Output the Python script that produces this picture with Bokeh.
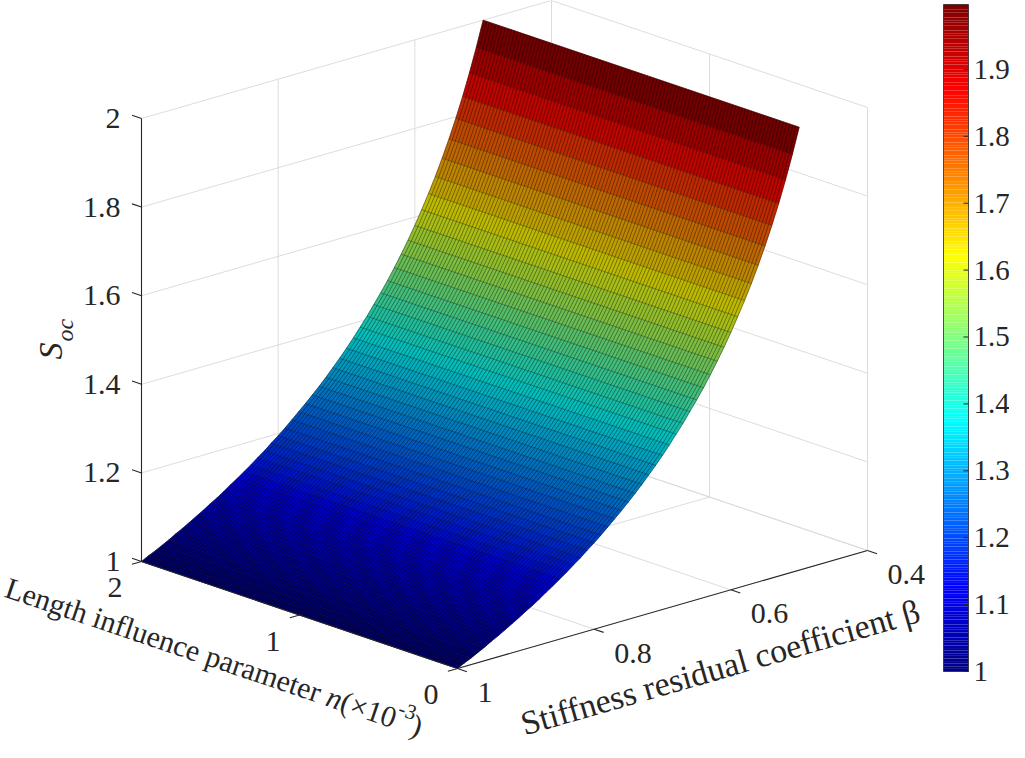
import numpy as np
from bokeh.plotting import figure
from bokeh.models import Range1d
from bokeh.embed import file_html
from bokeh.resources import INLINE
from bokeh.core.properties import value

# ---------------- data ----------------
beta = [0.50, 0.51, 0.52, 0.53, 0.54, 0.55, 0.56, 0.57, 0.58, 0.59,
        0.60, 0.61, 0.62, 0.63, 0.64, 0.65, 0.66, 0.67, 0.68, 0.69,
        0.70, 0.71, 0.72, 0.73, 0.74, 0.75, 0.76, 0.77, 0.78, 0.79,
        0.80, 0.81, 0.82, 0.83, 0.84, 0.85, 0.86, 0.87, 0.88, 0.89,
        0.90, 0.91, 0.92, 0.93, 0.94, 0.95, 0.96, 0.97, 0.98, 0.99, 1.00]
S_oc = [2.000, 1.943, 1.890, 1.841, 1.796, 1.754, 1.715, 1.678, 1.644, 1.612,
        1.581, 1.552, 1.525, 1.499, 1.474, 1.451, 1.429, 1.407, 1.387, 1.367,
        1.348, 1.330, 1.313, 1.296, 1.280, 1.265, 1.250, 1.236, 1.222, 1.208,
        1.195, 1.183, 1.170, 1.159, 1.147, 1.136, 1.125, 1.115, 1.104, 1.094,
        1.085, 1.075, 1.066, 1.057, 1.048, 1.040, 1.031, 1.023, 1.015, 1.008, 1.000]
n_range = [0, 2]
beta_range = [0.4, 1.0]
z_range = [1.0, 2.0]
n_ticks = [0, 1, 2]
n_tick_labels = ["0", "1", "2"]
beta_ticks = [0.4, 0.6, 0.8, 1.0]
beta_tick_labels = ["0.4", "0.6", "0.8", "1"]
z_ticks = [1.0, 1.2, 1.4, 1.6, 1.8, 2.0]
z_tick_labels = ["1", "1.2", "1.4", "1.6", "1.8", "2"]
cb_range = [1.0, 1.997]
cb_ticks = [1.0, 1.1, 1.2, 1.3, 1.4, 1.5, 1.6, 1.7, 1.8, 1.9]
cb_tick_labels = ["1", "1.1", "1.2", "1.3", "1.4", "1.5", "1.6", "1.7", "1.8", "1.9"]

# ---------------- layout ----------------
W, H = 1009, 742
ORG = (457.0, 668.0)           # screen position of (n=0, beta=1, z=1)
EN = (-158.0, -53.5)           # screen step per unit n
EB = (-683.33, 196.67)         # screen step per unit beta
EZ = 443.0                     # screen step per unit z
FONT = value("Liberation Serif")
TXT = "#262626"


def proj(n, b, z):
    n = np.asarray(n, float); b = np.asarray(b, float); z = np.asarray(z, float)
    x = ORG[0] + n * EN[0] + (b - 1) * EB[0]
    y = ORG[1] + n * EN[1] + (b - 1) * EB[1] - (z - 1) * EZ
    return x, y


def fig(x, y):
    return np.asarray(x, float), -np.asarray(y, float)


def jet(v, k=1.0):
    v = min(max(v, 0.0), 1.0)
    r = min(max(1.5 - abs(4 * v - 3), 0), 1)
    g = min(max(1.5 - abs(4 * v - 2), 0), 1)
    b = min(max(1.5 - abs(4 * v - 1), 0), 1)
    return "#%02x%02x%02x" % (round(r * 255 * k), round(g * 255 * k), round(b * 255 * k))


def cval(s):
    return (s - cb_range[0]) / (cb_range[1] - cb_range[0])


p = figure(width=W, height=H, x_range=Range1d(0, W), y_range=Range1d(-H, 0),
           output_backend="svg", toolbar_location=None, min_border=0,
           x_axis_location=None, y_axis_location=None)
p.grid.visible = False
p.outline_line_color = None
p.background_fill_color = "white"
p.border_fill_color = "white"

# ---------------- back-plane grid ----------------
gx, gy = [], []


def add_line(n, b, z, xs=gx, ys=gy):
    x, y = fig(*proj(n, b, z))
    xs.append(list(x)); ys.append(list(y))


n0, n1 = n_range
b0, b1 = beta_range
z0, z1 = z_range
for b in beta_ticks:
    add_line([n0, n1], [b, b], [z0, z0])
    add_line([n1, n1], [b, b], [z0, z1])
for n in n_ticks:
    add_line([n, n], [b0, b1], [z0, z0])
    add_line([n, n], [b0, b0], [z0, z1])
for z in z_ticks:
    add_line([n1, n1], [b0, b1], [z, z])
    add_line([n0, n1], [b0, b0], [z, z])
p.multi_line(gx, gy, line_color="#dcdcdc", line_width=1)

# ---------------- surface ----------------
pxs, pys, pcol = [], [], []
for i in range(len(beta) - 1):
    ba, bb = beta[i], beta[i + 1]
    sa, sb = S_oc[i], S_oc[i + 1]
    x, y = fig(*proj([n0, n1, n1, n0], [ba, ba, bb, bb], [sa, sa, sb, sb]))
    pxs.append(list(x)); pys.append(list(y))
    pcol.append(jet(cval(0.5 * (sa + sb)), 0.74))
p.patches(pxs, pys, fill_color=pcol, line_color=pcol, line_width=0.6)

# mesh columns (constant n) and rows (constant beta)
mx, my = [], []
for n in np.linspace(n0, n1, 101):
    add_line([n] * len(beta), beta, S_oc, mx, my)
p.multi_line(mx, my, line_color="black", line_alpha=0.55, line_width=0.7)
rx, ry = [], []
for b, s in zip(beta, S_oc):
    add_line([n0, n1], [b, b], [s, s], rx, ry)
p.multi_line(rx, ry, line_color="black", line_alpha=0.4, line_width=0.8)

# ---------------- axes ----------------
ax, ay = [], []
add_line([n1, n1], [b1, b1], [z0, z1], ax, ay)      # z axis
add_line([n0, n1], [b1, b1], [z0, z0], ax, ay)      # n axis
add_line([n0, n0], [b0, b1], [z0, z0], ax, ay)      # beta axis
un = np.array(EN) / np.hypot(*EN)
ub = np.array(EB) / np.hypot(*EB)
TL = 10
for z in z_ticks:
    x, y = proj(n1, b1, z)
    X, Y = fig([x, x + TL * un[0]], [y, y + TL * un[1]])
    ax.append(list(X)); ay.append(list(Y))
for n in n_ticks:
    x, y = proj(n, b1, z0)
    X, Y = fig([x, x + TL * ub[0]], [y, y + TL * ub[1]])
    ax.append(list(X)); ay.append(list(Y))
for b in beta_ticks:
    x, y = proj(n0, b, z0)
    X, Y = fig([x, x - TL * un[0]], [y, y - TL * un[1]])
    ax.append(list(X)); ay.append(list(Y))
p.multi_line(ax, ay, line_color=TXT, line_width=1.1)

# tick labels
tx, ty = [], []
for z in z_ticks:
    x, y = proj(n1, b1, z)
    tx.append(x - 21); ty.append(y)
X, Y = fig(tx, ty)
p.text(X, Y, text=z_tick_labels, text_font=FONT, text_font_size="30px", text_color=TXT,
       text_align="right", text_baseline="middle")
tx, ty = [], []
for n in n_ticks:
    x, y = proj(n, b1, z0)
    tx.append(x - 19); ty.append(y + 26)
X, Y = fig(tx, ty)
p.text(X, Y, text=n_tick_labels, text_font=FONT, text_font_size="30px", text_color=TXT,
       text_align="right", text_baseline="middle")
tx, ty = [], []
for b in beta_ticks:
    x, y = proj(n0, b, z0)
    tx.append(x + 20); ty.append(y + 24)
X, Y = fig(tx, ty)
p.text(X, Y, text=beta_tick_labels, text_font=FONT, text_font_size="30px", text_color=TXT,
       text_align="left", text_baseline="middle")

# ---------------- axis titles ----------------
ang_n = np.arctan2(-EN[1], -EN[0])
d = np.array([np.cos(ang_n), np.sin(ang_n)])
up = np.array([d[1], -d[0]])
fs = 30
pieces = [("Length influence parameter ", 11.302, fs, "normal", 0.0),
          ("n", 0.5, fs, "italic", 0.0),
          ("(\u00d710", 1.897, fs, "normal", 0.0),
          ("-3", 0.833, 21, "normal", 11.0),
          (")", 0.333, fs, "normal", 0.0)]
P0 = np.array([6.0, 586.0])
acc = 0.0
for txt, em, size, style, rise in pieces:
    P = P0 + d * acc + up * rise
    X, Y = fig([P[0]], [P[1]])
    p.text(X, Y, text=[txt], angle=-ang_n, text_font=FONT, text_font_size=f"{size}px",
           text_font_style=style, text_color=TXT, text_align="left", text_baseline="alphabetic")
    acc += em * size

ang_b = np.arctan2(EB[1], -EB[0])
X, Y = fig([521.0], [724.0])
p.text(X, Y, text=["Stiffness residual coefficient \u03b2"], angle=ang_b, text_font=FONT,
       text_font_size="34px", text_color=TXT, text_align="left", text_baseline="alphabetic")

X, Y = fig([50.0], [359.0])
p.text(X, Y, text=["S"], angle=np.pi / 2, text_font=FONT, text_font_size="34px",
       text_font_style="italic", text_color=TXT, text_align="left", text_baseline="alphabetic")
X, Y = fig([64.0], [341.0])
p.text(X, Y, text=["oc"], angle=np.pi / 2, text_font=FONT, text_font_size="24px",
       text_font_style="italic", text_color=TXT, text_align="left", text_baseline="alphabetic")

# ---------------- colour bar ----------------
CBX0, CBX1, CBYB, CBYT = 943.0, 968.0, 671.0, 4.0


def cb_y(v):
    return CBYB - cval(v) * (CBYB - CBYT)


NL = 256
lv = np.linspace(cb_range[0], cb_range[1], NL + 1)
qb = [cb_y(v) for v in lv[:-1]]
qt = [cb_y(v) for v in lv[1:]]
L, B = fig([CBX0] * NL, qb)
R, T = fig([CBX1] * NL, qt)
p.quad(left=L, right=R, bottom=B, top=T,
       fill_color=[jet(k / (NL - 1)) for k in range(NL)], line_color=None)
X, Y = fig([CBX0, CBX1, CBX1, CBX0, CBX0], [CBYB, CBYB, CBYT, CBYT, CBYB])
p.line(X, Y, line_color=TXT, line_width=0.8)
kx, ky = [], []
for v in cb_ticks:
    X, Y = fig([CBX1, CBX1 - 5], [cb_y(v), cb_y(v)])
    kx.append(list(X)); ky.append(list(Y))
p.multi_line(kx, ky, line_color=TXT, line_width=1)
X, Y = fig([973.0] * len(cb_ticks), [cb_y(v) for v in cb_ticks])
p.text(X, Y, text=cb_tick_labels, text_font=FONT, text_font_size="29px", text_color=TXT,
       text_align="left", text_baseline="middle")

open("out.html", "w").write(file_html(p, INLINE))
